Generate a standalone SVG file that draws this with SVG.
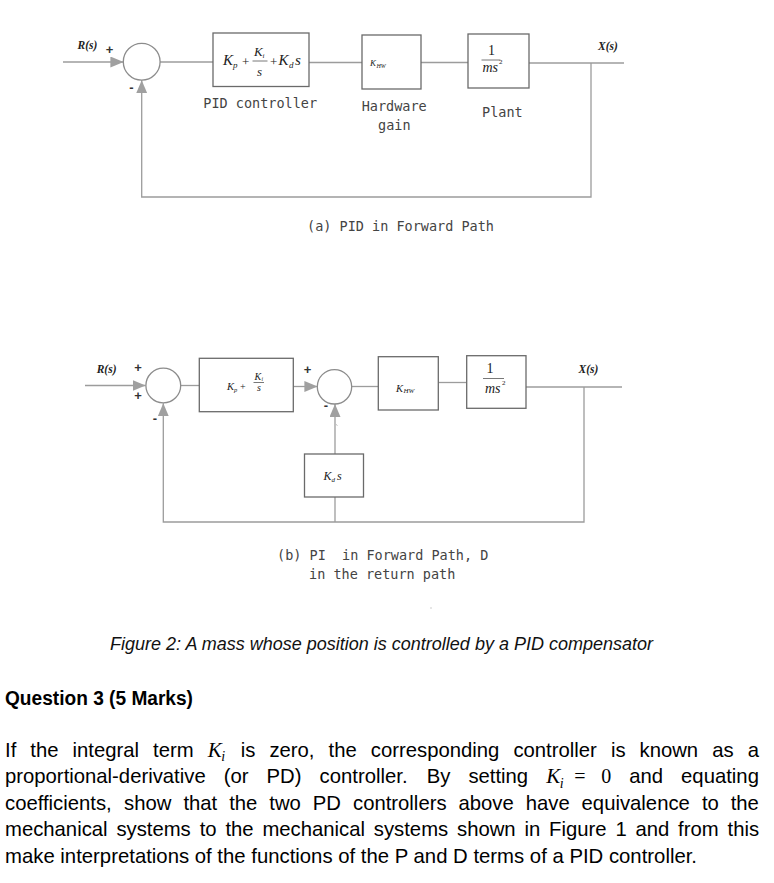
<svg xmlns="http://www.w3.org/2000/svg" width="774" height="883" viewBox="0 0 774 883">
<defs>
<marker id="ah" viewBox="0 0 13 11" refX="13" refY="5.5" markerWidth="13" markerHeight="11" markerUnits="userSpaceOnUse" orient="auto"><path d="M0,0 L13,5.5 L0,11 Z" fill="#a0a0a0"/></marker>
<style>
.ln{stroke:#9c9c9c;stroke-width:1.3;fill:none}
.bx{fill:#fff;stroke:#6a6a6a;stroke-width:1.3}
.sj{fill:#fff;stroke:#8c8c8c;stroke-width:1.3}
.fr{stroke:#555;stroke-width:0.8}
.mi{font-family:"Liberation Serif","Times New Roman",serif;font-style:italic;fill:#222}
.mu{font-family:"Liberation Serif","Times New Roman",serif;fill:#222}
.lb{font-family:"Liberation Serif","Times New Roman",serif;font-style:italic;font-weight:bold;font-size:11.5px;fill:#222}
.sg{font-family:"Liberation Sans",Arial,sans-serif;font-size:13px;font-weight:bold;fill:#333;text-anchor:middle}
.mo{font-family:"DejaVu Sans Mono",monospace;font-size:13.5px;fill:#444}
.cap{font-family:"Liberation Sans",Arial,sans-serif;font-style:italic;font-size:18px;fill:#111}
.hd{font-family:"Liberation Sans",Arial,sans-serif;font-weight:bold;font-size:20.3px;fill:#000}
.bd{font-family:"Liberation Sans",Arial,sans-serif;font-size:20.3px;fill:#000}
.bm{font-family:"Liberation Serif","Times New Roman",serif;font-style:italic;fill:#000}
.bu{font-family:"Liberation Serif","Times New Roman",serif;fill:#000}
</style>
</defs>
<rect width="774" height="883" fill="#fff"/>

<!-- ===== Figure (a) ===== -->
<g id="connectors-a">
<path class="ln" d="M63,62 H123.4" marker-end="url(#ah)"/>
<path class="ln" d="M160,62 H213"/>
<path class="ln" d="M309,62.5 H362"/>
<path class="ln" d="M421,62.5 H468"/>
<path class="ln" d="M529,63 H624"/>
<path class="ln" d="M591,63 V197 H141.7 V80.2" marker-end="url(#ah)"/>
</g>
<g id="a-sum">
<circle class="sj" cx="141.7" cy="61.7" r="18.4"/>
<text class="sg" x="109.5" y="54.3">+</text>
<text class="sg" x="131.5" y="92">-</text>
</g>
<g id="a-labels">
<text class="lb" x="77.5" y="49">R(s)</text>
<text class="lb" x="598" y="50">X(s)</text>
</g>
<g id="a-pid">
<rect class="bx" x="213" y="33" width="96" height="53.5"/>
<text class="mi" x="223" y="65" font-size="15">K</text>
<text class="mi" x="233" y="68" font-size="9">p</text>
<text class="mu" x="242" y="65.5" font-size="13">+</text>
<text class="mi" x="254" y="56" font-size="13">K</text>
<text class="mi" x="262.5" y="58" font-size="7">i</text>
<line class="fr" x1="252.5" y1="61" x2="267.5" y2="61"/>
<text class="mi" x="257" y="76" font-size="13">s</text>
<text class="mu" x="270" y="65.5" font-size="13">+</text>
<text class="mi" x="278.5" y="65" font-size="15">K</text>
<text class="mi" x="289" y="68" font-size="9">d</text>
<text class="mi" x="295" y="65" font-size="15">s</text>
<text class="mo" x="203.3" y="108">PID controller</text>
</g>
<g id="a-hw">
<rect class="bx" x="362" y="35" width="59" height="54"/>
<text class="mi" x="370" y="66" font-size="9">K</text>
<text class="mi" x="376.5" y="67.5" font-size="6">HW</text>
<text class="mo" x="361.7" y="111">Hardware</text>
<text class="mo" x="378" y="130">gain</text>
</g>
<g id="a-plant">
<rect class="bx" x="468" y="34" width="61" height="54"/>
<text class="mu" x="488" y="55" font-size="14">1</text>
<line class="fr" x1="481.5" y1="60" x2="500.5" y2="60"/>
<text class="mi" x="482.5" y="72" font-size="14">ms</text>
<text class="mu" x="499" y="64" font-size="7">2</text>
<text class="mo" x="482" y="117">Plant</text>
</g>
<text class="mo" x="307" y="231">(a) PID in Forward Path</text>

<!-- ===== Figure (b) ===== -->
<g id="connectors-b">
<path class="ln" d="M85,385.5 H145.6" marker-end="url(#ah)"/>
<path class="ln" d="M180.7,385.5 H199.3"/>
<path class="ln" d="M293.3,386.5 H317.4" marker-end="url(#ah)"/>
<path class="ln" d="M351.7,386.5 H378.3"/>
<path class="ln" d="M438.3,382.5 H466.7"/>
<path class="ln" d="M526,387 H622"/>
<path class="ln" d="M584,387 V522 H163.3 V403.3" marker-end="url(#ah)"/>
<path class="ln" d="M335,522 V497"/>
<path class="ln" d="M335,454 V404" marker-end="url(#ah)"/>
<path d="M336,424 L337.5,426" stroke="#bbb" stroke-width="0.8"/>
</g>
<g id="b-sum1">
<circle class="sj" cx="163.3" cy="385.5" r="17.4"/>
<text class="sg" x="138" y="372.3">+</text>
<text class="sg" x="138" y="399.8">+</text>
<text class="sg" x="155" y="422.5">-</text>
</g>
<g id="b-labels">
<text class="lb" x="96.7" y="373">R(s)</text>
<text class="lb" x="578.5" y="373">X(s)</text>
</g>
<g id="b-pi">
<rect class="bx" x="199.3" y="358.3" width="94" height="53.4"/>
<text class="mi" x="227" y="390" font-size="10.5">K</text>
<text class="mi" x="234" y="392" font-size="6.5">p</text>
<text class="mu" x="240" y="389.5" font-size="10">+</text>
<text class="mi" x="254.5" y="379.5" font-size="10">K</text>
<text class="mi" x="261.5" y="381" font-size="5.5">i</text>
<line class="fr" x1="253.5" y1="382.5" x2="264" y2="382.5"/>
<text class="mi" x="257" y="391" font-size="10">s</text>
</g>
<g id="b-sum2">
<circle class="sj" cx="334.5" cy="386.8" r="17.2"/>
<text class="sg" x="307.5" y="374.3">+</text>
<text class="sg" x="326" y="410">-</text>
</g>
<g id="b-hw">
<rect class="bx" x="378.3" y="356.7" width="60" height="53.3"/>
<text class="mi" x="396" y="391.5" font-size="10.5">K</text>
<text class="mi" x="403.5" y="393" font-size="7">HW</text>
</g>
<g id="b-plant">
<rect class="bx" x="466.7" y="355.7" width="59.3" height="52.6"/>
<text class="mu" x="486.5" y="373" font-size="14">1</text>
<line class="fr" x1="483" y1="378.5" x2="504" y2="378.5"/>
<text class="mi" x="485" y="393" font-size="14">ms</text>
<text class="mu" x="502" y="385" font-size="7">2</text>
</g>
<g id="b-kd">
<rect class="bx" x="304.5" y="454" width="59" height="43"/>
<text class="mi" x="323.5" y="480" font-size="12">K</text>
<text class="mi" x="331.5" y="482" font-size="7">d</text>
<text class="mi" x="337" y="480" font-size="12">s</text>
</g>
<text class="mo" y="560"><tspan x="277">(b) PI</tspan><tspan x="342">in Forward Path, D</tspan></text>
<text class="mo" x="309" y="579">in the return path</text>
<circle cx="431" cy="608" r="0.7" fill="#bbb"/>

<!-- ===== Caption and question ===== -->
<text class="cap" x="110" y="650" textLength="543" lengthAdjust="spacingAndGlyphs">Figure 2: A mass whose position is controlled by a PID compensator</text>
<text class="hd" x="5" y="705" textLength="188" lengthAdjust="spacingAndGlyphs">Question 3 (5 Marks)</text>

<g id="body">
<text class="bd" y="756.5"><tspan x="5">If</tspan><tspan x="30.3">the</tspan><tspan x="72.5">integral</tspan><tspan x="153.1">term</tspan><tspan x="240.7">is</tspan><tspan x="269.4">zero,</tspan><tspan x="328.5">the</tspan><tspan x="370.8">corresponding</tspan><tspan x="513.4">controller</tspan><tspan x="610.9">is</tspan><tspan x="639.5">known</tspan><tspan x="712.2">as</tspan><tspan x="747.7">a</tspan></text>
<text class="bm" x="207.7" y="756.5" font-size="21">K</text>
<text class="bm" x="221.2" y="761" font-size="14">i</text>

<text class="bd" y="783"><tspan x="5">proportional-derivative</tspan><tspan x="223.8">(or</tspan><tspan x="266.6">PD)</tspan><tspan x="319.6">controller.</tspan><tspan x="426.7">By</tspan><tspan x="468.4">setting</tspan><tspan x="629.3">and</tspan><tspan x="681.1">equating</tspan></text>
<text class="bm" x="546.3" y="783" font-size="21">K</text>
<text class="bm" x="559.8" y="787.5" font-size="14">i</text>
<text class="bu" x="574.3" y="783" font-size="20">=</text>
<text class="bu" x="601.3" y="783" font-size="20">0</text>

<text class="bd" y="809.5"><tspan x="5">coefficients,</tspan><tspan x="124.1">show</tspan><tspan x="183.4">that</tspan><tspan x="229.2">the</tspan><tspan x="269.3">two</tspan><tspan x="312.8">PD</tspan><tspan x="353">controllers</tspan><tspan x="458.5">above</tspan><tspan x="525.7">have</tspan><tspan x="581.6">equivalence</tspan><tspan x="701.9">to</tspan><tspan x="730.7">the</tspan></text>

<text class="bd" y="836"><tspan x="5">mechanical</tspan><tspan x="116.4">systems</tspan><tspan x="199.7">to</tspan><tspan x="225.4">the</tspan><tspan x="262.4">mechanical</tspan><tspan x="373.8">systems</tspan><tspan x="457">shown</tspan><tspan x="524.5">in</tspan><tspan x="549">Figure</tspan><tspan x="615.4">1</tspan><tspan x="635.4">and</tspan><tspan x="678.1">from</tspan><tspan x="727.5">this</tspan></text>

<text class="bd" x="5" y="862.5" textLength="692" lengthAdjust="spacingAndGlyphs">make interpretations of the functions of the P and D terms of a PID controller.</text>
</g>
</svg>
